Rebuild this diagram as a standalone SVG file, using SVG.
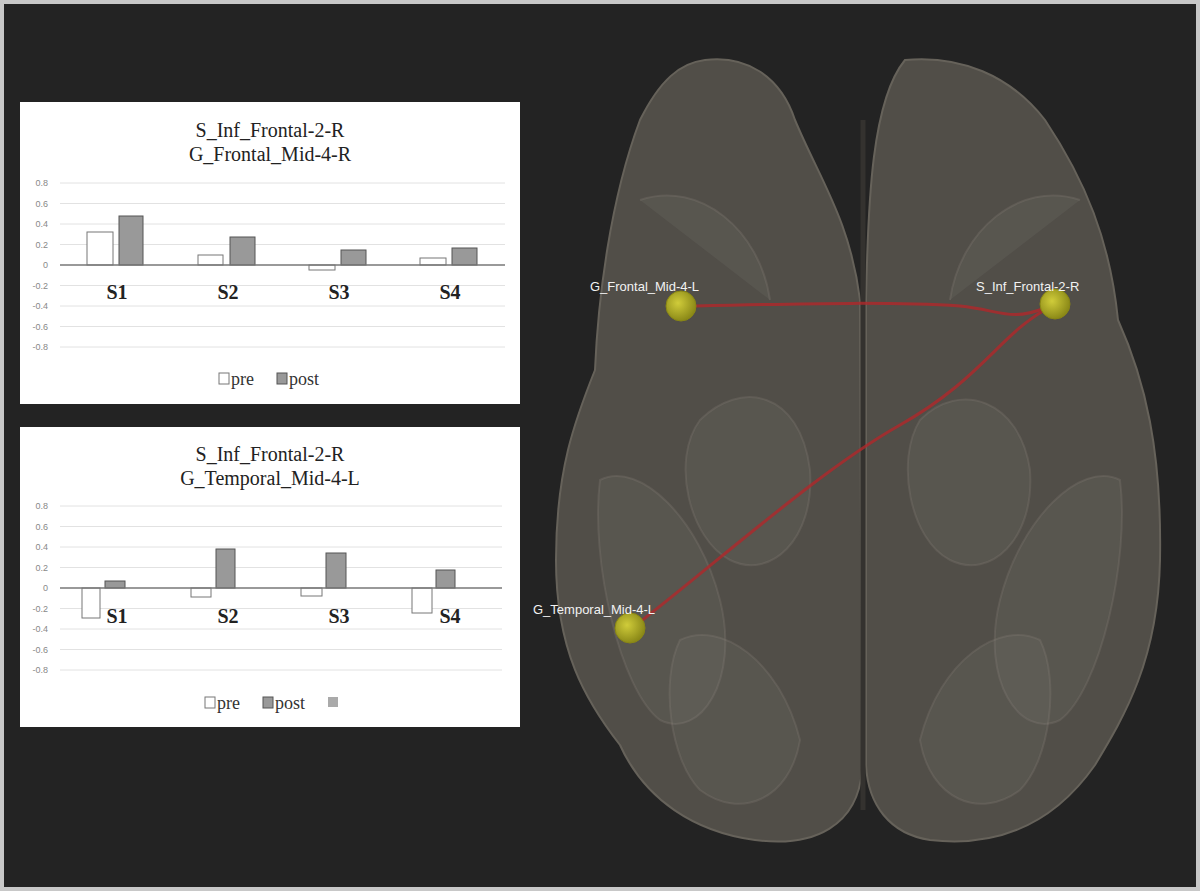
<svg xmlns="http://www.w3.org/2000/svg" width="1200" height="891" viewBox="0 0 1200 891">
<style>
.ttl{font-family:"Liberation Serif",serif;font-size:20px;fill:#222;text-anchor:middle}
.cat{font-family:"Liberation Serif",serif;font-size:20px;font-weight:bold;fill:#222;text-anchor:middle}
.ax{font-family:"Liberation Sans",sans-serif;font-size:9px;fill:#888;text-anchor:end}
.leg{font-family:"Liberation Serif",serif;font-size:18px;fill:#333}
.grid{stroke:#e2e2e2;stroke-width:1}
.zero{stroke:#777;stroke-width:1.5}
.pre{fill:#fff;stroke:#777;stroke-width:1}
.post{fill:#999;stroke:#555;stroke-width:1}
.lbl{font-family:"Liberation Sans",sans-serif;font-size:13px;fill:#f2f2f2}
.hemi{fill:#57534c;fill-opacity:0.9;stroke:#66625a;stroke-width:2}
.fold{fill:#8a857c;fill-opacity:0.14;stroke:#8a857c;stroke-opacity:0.25;stroke-width:2}
.edge{fill:none;stroke:#b0282a;stroke-width:3;stroke-opacity:0.8}
.node{stroke:#8a8714;stroke-width:1}
</style>
<defs>
<radialGradient id="ball" cx="0.4" cy="0.4" r="0.6"><stop offset="0" stop-color="#d0cc3a"/><stop offset="1" stop-color="#8c8a18"/></radialGradient>
</defs>
<rect width="1200" height="891" fill="#c8c8c8"/>
<rect x="4" y="4" width="1192" height="883" fill="#232323"/>

<g id="brain">
<path class="hemi" d="M705,60 C745,55 780,75 795,120 C820,180 850,220 860,300 L862,770 C858,825 815,848 755,840 C695,832 645,800 620,745 C585,700 556,650 556,560 C556,470 575,420 595,370 C598,300 610,200 640,120 C660,80 680,63 705,60 Z"/>
<path class="hemi" d="M905,60 C960,55 1010,75 1045,120 C1085,180 1110,240 1118,320 C1145,380 1162,450 1160,560 C1158,660 1125,715 1095,765 C1055,822 1000,848 930,840 C890,834 868,805 866,765 L866,300 C868,200 872,100 905,60 Z"/>
<path class="fold" d="M700,420 C740,380 800,390 810,470 C815,540 770,580 730,560 C690,540 670,460 700,420 Z"/>
<path class="fold" d="M920,420 C960,380 1020,400 1030,470 C1035,540 990,580 950,560 C910,540 895,460 920,420 Z"/>
<path class="fold" d="M600,480 C640,460 700,520 720,600 C740,680 700,740 660,720 C620,690 590,560 600,480 Z"/>
<path class="fold" d="M1120,480 C1080,460 1020,520 1000,600 C980,680 1020,740 1060,720 C1100,690 1130,560 1120,480 Z"/>
<path class="fold" d="M680,640 C720,620 780,660 800,740 C790,800 740,820 700,790 C670,760 660,680 680,640 Z"/>
<path class="fold" d="M1040,640 C1000,620 940,660 920,740 C930,800 980,820 1020,790 C1050,760 1060,680 1040,640 Z"/>
<path class="fold" d="M640,200 C700,180 760,230 770,300"/>
<path class="fold" d="M1080,200 C1020,180 960,230 950,300"/>
<line x1="863" y1="120" x2="863" y2="810" stroke="#34322f" stroke-width="5"/>
</g>

<g id="connectors">
<path class="edge" d="M695,306 C820,303 900,302 960,306 C1000,310 1010,322 1045,308"/>
<path class="edge" d="M640,622 C720,560 820,470 900,425 C980,380 1000,335 1045,310"/>
</g>

<g id="node-gfm"><circle class="node" cx="681" cy="306" r="15" fill="url(#ball)"/><text class="lbl" x="590" y="291">G_Frontal_Mid-4-L</text></g>
<g id="node-sif"><circle class="node" cx="1055" cy="304" r="15" fill="url(#ball)"/><text class="lbl" x="976" y="291">S_Inf_Frontal-2-R</text></g>
<g id="node-gtm"><circle class="node" cx="630" cy="628" r="15" fill="url(#ball)"/><text class="lbl" x="533" y="614">G_Temporal_Mid-4-L</text></g>

<g id="chart1">
<rect x="20" y="102" width="500" height="302" fill="#fff"/>
<text class="ttl" x="270" y="137">S_Inf_Frontal-2-R</text>
<text class="ttl" x="270" y="161">G_Frontal_Mid-4-R</text>
<g class="grid">
<line x1="60" y1="183" x2="505" y2="183"/><line x1="60" y1="203.5" x2="505" y2="203.5"/><line x1="60" y1="224" x2="505" y2="224"/><line x1="60" y1="244.5" x2="505" y2="244.5"/>
<line x1="60" y1="285.5" x2="505" y2="285.5"/><line x1="60" y1="306" x2="505" y2="306"/><line x1="60" y1="326.5" x2="505" y2="326.5"/><line x1="60" y1="347" x2="505" y2="347"/>
</g>
<g>
<text class="ax" x="48" y="186">0.8</text><text class="ax" x="48" y="207">0.6</text><text class="ax" x="48" y="227">0.4</text><text class="ax" x="48" y="248">0.2</text><text class="ax" x="48" y="268">0</text>
<text class="ax" x="48" y="289">-0.2</text><text class="ax" x="48" y="309">-0.4</text><text class="ax" x="48" y="330">-0.6</text><text class="ax" x="48" y="350">-0.8</text>
</g>
<rect class="pre" x="87" y="232" width="26" height="33"/><rect class="post" x="119" y="216" width="24" height="49"/>
<rect class="pre" x="198" y="255" width="25" height="10"/><rect class="post" x="230" y="237" width="25" height="28"/>
<rect class="pre" x="309" y="265" width="26" height="5"/><rect class="post" x="341" y="250" width="25" height="15"/>
<rect class="pre" x="420" y="258" width="26" height="7"/><rect class="post" x="452" y="248" width="25" height="17"/>
<line class="zero" x1="60" y1="265" x2="505" y2="265"/>
<text class="cat" x="117" y="299">S1</text><text class="cat" x="228" y="299">S2</text><text class="cat" x="339" y="299">S3</text><text class="cat" x="450" y="299">S4</text>
<rect class="pre" x="219" y="373" width="10" height="11"/><text class="leg" x="231" y="385">pre</text>
<rect class="post" x="277" y="373" width="10" height="11"/><text class="leg" x="289" y="385">post</text>
</g>

<g id="chart2">
<rect x="20" y="427" width="500" height="300" fill="#fff"/>
<text class="ttl" x="270" y="461">S_Inf_Frontal-2-R</text>
<text class="ttl" x="270" y="485">G_Temporal_Mid-4-L</text>
<g class="grid">
<line x1="60" y1="506" x2="502" y2="506"/><line x1="60" y1="526.5" x2="502" y2="526.5"/><line x1="60" y1="547" x2="502" y2="547"/><line x1="60" y1="567.5" x2="502" y2="567.5"/>
<line x1="60" y1="608.5" x2="502" y2="608.5"/><line x1="60" y1="629" x2="502" y2="629"/><line x1="60" y1="649.5" x2="502" y2="649.5"/><line x1="60" y1="670" x2="502" y2="670"/>
</g>
<g>
<text class="ax" x="48" y="509">0.8</text><text class="ax" x="48" y="530">0.6</text><text class="ax" x="48" y="550">0.4</text><text class="ax" x="48" y="571">0.2</text><text class="ax" x="48" y="591">0</text>
<text class="ax" x="48" y="612">-0.2</text><text class="ax" x="48" y="632">-0.4</text><text class="ax" x="48" y="653">-0.6</text><text class="ax" x="48" y="673">-0.8</text>
</g>
<rect class="pre" x="82" y="588" width="18" height="30"/><rect class="post" x="105" y="581" width="20" height="7"/>
<rect class="pre" x="191" y="588" width="20" height="9"/><rect class="post" x="216" y="549" width="19" height="39"/>
<rect class="pre" x="301" y="588" width="21" height="8"/><rect class="post" x="326" y="553" width="20" height="35"/>
<rect class="pre" x="412" y="588" width="20" height="25"/><rect class="post" x="436" y="570" width="19" height="18"/>
<line class="zero" x1="60" y1="588" x2="502" y2="588"/>
<text class="cat" x="117" y="623">S1</text><text class="cat" x="228" y="623">S2</text><text class="cat" x="339" y="623">S3</text><text class="cat" x="450" y="623">S4</text>
<rect class="pre" x="205" y="697" width="10" height="11"/><text class="leg" x="217" y="709">pre</text>
<rect class="post" x="263" y="697" width="10" height="11"/><text class="leg" x="275" y="709">post</text>
<rect x="328" y="697" width="10" height="10" fill="#aaa"/>
</g>
</svg>
